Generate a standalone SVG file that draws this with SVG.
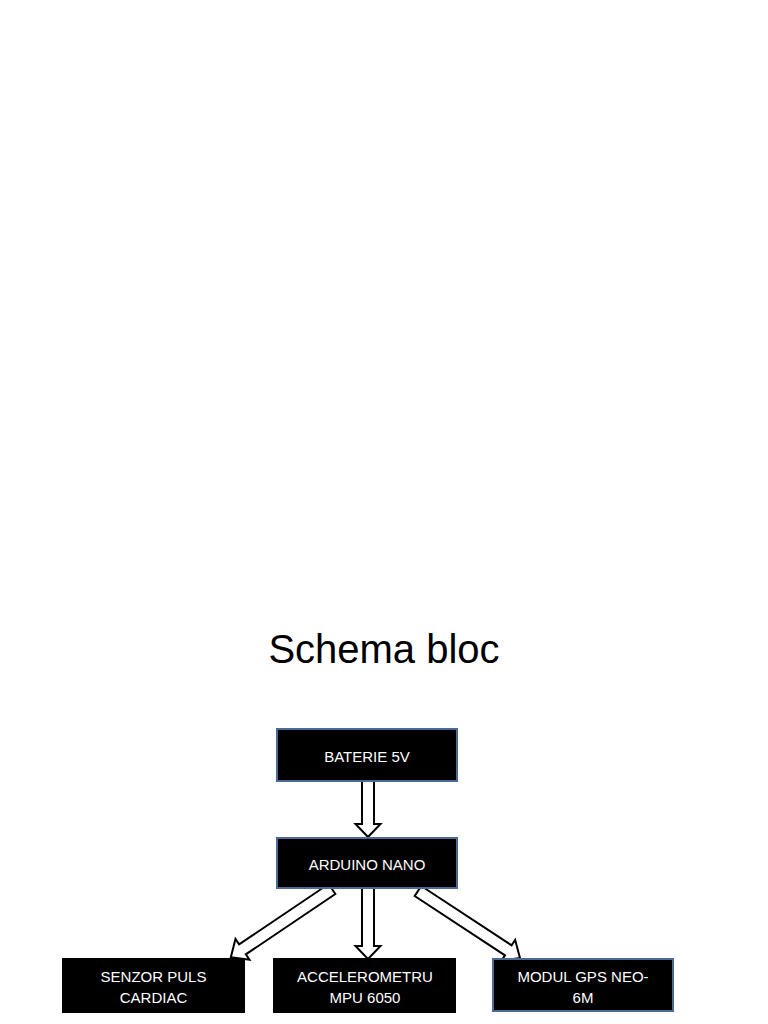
<svg xmlns="http://www.w3.org/2000/svg" width="768" height="1024" viewBox="0 0 768 1024">
<style>
.box{fill:#000;stroke:#4a6a9a;stroke-width:2}
.boxk{fill:#000;stroke:#000;stroke-width:2}
.lbl{font-family:"Liberation Sans",Arial,sans-serif;font-size:15px;fill:#fff;text-anchor:middle}
.arr{fill:#fff;stroke:#000;stroke-width:2;stroke-linejoin:miter}
.title{font-family:"Liberation Sans",Arial,sans-serif;font-size:40px;fill:#000;text-anchor:middle}
</style>
<rect width="768" height="1024" fill="#fff"/>
<text class="title" x="384" y="663">Schema bloc</text>
<g id="connectors">
<polygon class="arr" transform="translate(368,781) rotate(90)" points="0,-6 43,-6 43,-12.5 56,0 43,12.5 43,6 0,6"/>
<polygon class="arr" transform="translate(368,888) rotate(90)" points="0,-6 58,-6 58,-12.5 71,0 58,12.5 58,6 0,6"/>
<polygon class="arr" transform="translate(332,889) rotate(146)" points="0,-6 108,-6 108,-12.5 122,0 108,12.5 108,6 0,6"/>
<polygon class="arr" transform="translate(418,891) rotate(33.3)" points="0,-6 108,-6 108,-12.5 122,0 108,12.5 108,6 0,6"/>
</g>
<g id="baterie">
<rect class="box" x="277" y="729" width="180" height="52"/>
<text class="lbl" x="367" y="762">BATERIE 5V</text>
</g>
<g id="arduino">
<rect class="box" x="277" y="838" width="180" height="50"/>
<text class="lbl" x="367" y="870">ARDUINO NANO</text>
</g>
<g id="senzor">
<rect class="boxk" x="63" y="959" width="181" height="53"/>
<text class="lbl" x="153.5" y="982">SENZOR PULS</text>
<text class="lbl" x="153.5" y="1003">CARDIAC</text>
</g>
<g id="accelerometru">
<rect class="boxk" x="274" y="959" width="181" height="53"/>
<text class="lbl" x="365" y="982">ACCELEROMETRU</text>
<text class="lbl" x="365" y="1003">MPU 6050</text>
</g>
<g id="gps">
<rect class="box" x="493" y="959" width="180" height="52"/>
<text class="lbl" x="583" y="982">MODUL GPS NEO-</text>
<text class="lbl" x="583" y="1003">6M</text>
</g>
</svg>
